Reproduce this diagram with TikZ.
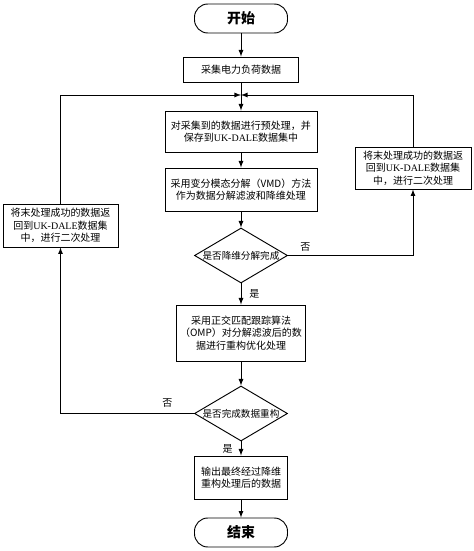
\documentclass[tikz,border=0pt]{standalone}
\usepackage{fontspec}
\usepackage{tikz}
\usetikzlibrary{shapes.geometric, arrows, positioning, calc}
\newfontfamily\cjk{Noto Sans CJK SC}
\newfontfamily\tnr{Liberation Serif}

\begin{document}
\begin{tikzpicture}[x=0.75pt, y=0.75pt, >=latex, line width=0.7pt,
    box/.style={draw, align=center, inner sep=1pt, font=\cjk\fontsize{7.5}{9.4}\selectfont},
    term/.style={draw, rounded corners=10pt, minimum width=69.75pt, minimum height=21.75pt, font=\cjk\fontsize{10.5}{12}\selectfont\bfseries},
    decide/.style={draw, diamond, aspect=1.7, inner sep=0pt, minimum width=69.75pt, minimum height=41.25pt, font=\cjk\fontsize{7.2}{9}\selectfont},
    lbl/.style={font=\cjk\fontsize{7.5}{9}\selectfont, inner sep=1pt}]
            \useasboundingbox (0,0) rectangle (474,551);

            \node[term] (start) at (241,532.5) {开始};
            \node[box, minimum width=86.25pt, minimum height=18.75pt] (collect) at (241,481.5) {采集电力负荷数据};
            \coordinate (merge) at (241,456);
            \node[box, minimum width=114pt, minimum height=30.75pt] (prep) at (241,419.5) {对采集到的数据进行预处理，并\\保存到{\tnr UK-DALE}数据集中};
            \node[box, minimum width=114pt, minimum height=32.25pt] (vmd) at (241,361.5) {采用变分模态分解（VMD）方法\\作为数据分解滤波和降维处理};
            \node[decide] (dec1) at (241,295.5) {是否降维分解完成};
            \node[box, minimum width=96.75pt, minimum height=42pt] (omp) at (241,218) {采用正交匹配跟踪算法\\（OMP）对分解滤波后的数\\据进行重构优化处理};
            \node[decide] (dec2) at (241,137.5) {是否完成数据重构};
            \node[box, minimum width=69.75pt, minimum height=32.25pt] (output) at (241,73.5) {输出最终经过降维\\重构处理后的数据};
            \node[term] (stop) at (241,18.5) {结束};

            % two return boxes
            \node[box, minimum width=87pt, minimum height=31.5pt] (retR) at (413,383) {将末处理成功的数据返\\回到{\tnr UK-DALE}数据集\\中，进行二次处理};
            \node[box, minimum width=86.25pt, minimum height=32.25pt] (retL) at (60.5,325.5) {将末处理成功的数据返\\回到{\tnr UK-DALE}数据集\\中，进行二次处理};

            \draw[->] (start.south) -- (collect.north);
            \draw[->] (collect.south) -- (prep.north);
            \draw[->] (prep.south) -- (vmd.north);
            \draw[->] (vmd.south) -- (dec1.north);
            \draw[->] (dec1.south) -- node[lbl, right=5pt] {是} (omp.north);
            \draw[->] (omp.south) -- (dec2.north);
            \draw[->] (dec2.south) -- node[lbl, left=5pt] {是} (output.north);
            \draw[->] (output.south) -- (stop.north);

            \draw[->] (dec1.east) -| node[lbl, pos=0.07, above=2pt] {否} (retR.south);
            \draw[->] (retR.north) |- (merge);
            \draw[->] (dec2.west) -| node[lbl, pos=0.1, above=3pt] {否} (retL.south);
            \draw[->] (retL.north) |- (merge);
        \end{tikzpicture}
\end{document}
